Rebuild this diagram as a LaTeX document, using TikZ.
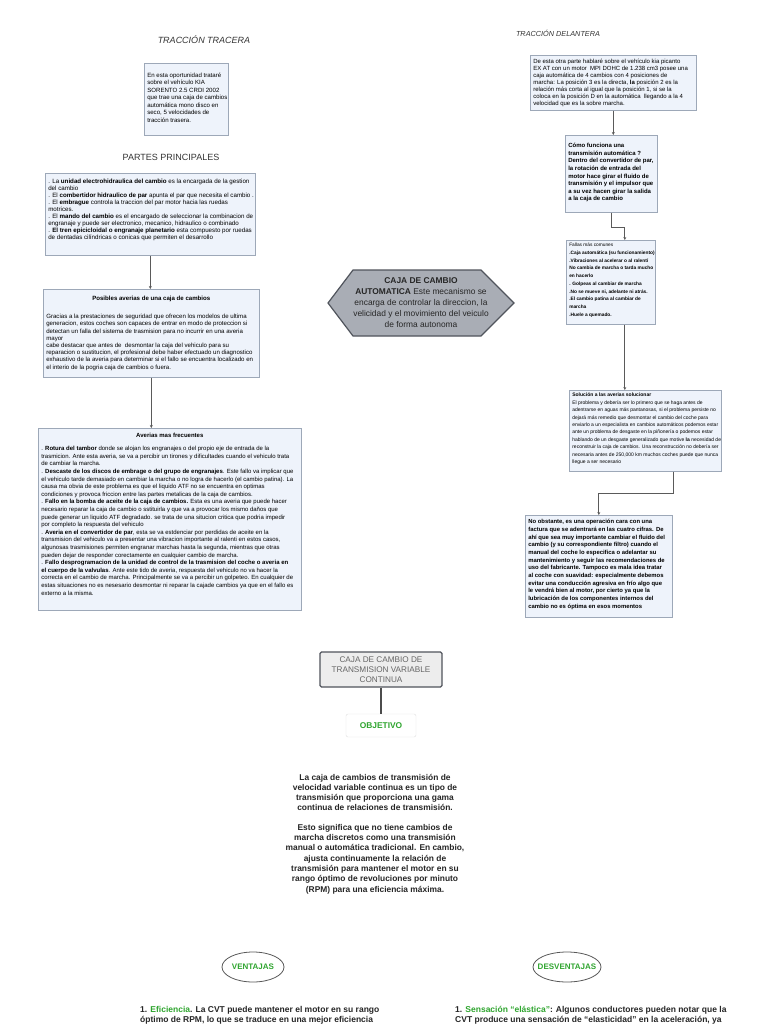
\documentclass[tikz,border=0pt]{standalone}
\usepackage{fontspec}
\setmainfont{Liberation Sans}
\usetikzlibrary{positioning}
\usetikzlibrary{shapes.geometric}
\usetikzlibrary{arrows.meta}
\definecolor{boxfill}{HTML}{EEF3FB}
\definecolor{boxline}{HTML}{9DA8B8}
\definecolor{hexfill}{HTML}{A9ADB5}
\definecolor{hexline}{HTML}{50545C}
\definecolor{linkgray}{HTML}{5A5A5A}
\definecolor{titlegray}{HTML}{333333}
\definecolor{cvtgreen}{HTML}{2FA52F}
\newcommand{\boxbody}[4]{\makebox[#1pt][l]{\parbox[t][#2pt][t]{\dimexpr#1pt+60pt\relax}{\vspace*{#3pt}\raggedright #4}}}
\newcommand{\fsz}[2]{\fontsize{#1}{#2}\selectfont}

\begin{document}
\begin{tikzpicture}
                [
                    x = 1pt, y = -1pt,
                    infobox/.style = {draw=boxline, fill=boxfill, anchor=north west, inner sep=3pt, line width=0.6pt, text=black},
                    heading/.style = {text=titlegray, inner sep=0pt},
                    hexshape/.style = {draw=hexline, fill=hexfill, line width=1.2pt},
                    link/.style = {draw=linkgray, line width=0.7pt, -{Stealth[length=3pt, width=3pt]}},
                    cvtbox/.style = {draw=hexline, fill=black!7, line width=1.2pt, rounded corners=1.5pt, minimum width=122pt, minimum height=35pt, inner sep=1pt, align=center, text=black!60},
                    tagbox/.style = {draw=black!12, rounded corners=2pt, minimum width=70pt, minimum height=23pt, inner sep=0pt, text=cvtgreen, font=\bfseries\fsz{8.4}{9}},
                    tagoval/.style = {ellipse, draw=black!65, line width=0.8pt, minimum width=62pt, minimum height=30pt, inner sep=0pt, text=cvtgreen, font=\bfseries\fsz{8}{9}},
                    bodytext/.style = {align=center, inner sep=0pt, text=black!85, font=\bfseries\fsz{8.4}{10.3}},
                    foottext/.style = {anchor=north west, align=left, inner sep=0pt, text=black!85, font=\bfseries\fsz{8.5}{10.5}}
                ]
                \fill[white] (0,0) rectangle (768,1024);
                \useasboundingbox (0,0) rectangle (768,1024);

                % traccion trasera
                \node (titletras) [heading, font=\itshape\fsz{9}{10}] at (204,40) {TRACCIÓN TRACERA};
                \node (trasera) [infobox, font=\fsz{6.1}{7.5}] at (144,63) {\boxbody{78}{66}{6.5}{En esta oportunidad trataré\\sobre el vehículo KIA\\SORENTO 2.5 CRDI 2002\\que trae una caja de cambios\\automática mono disco en\\seco, 5 velocidades de\\tracción trasera.}};

                \node (titlepartes) [heading, font=\fsz{9}{10}] at (171,157) {PARTES PRINCIPALES};
                \node (partes) [infobox, font=\fsz{6.2}{7}] at (45,173) {\boxbody{204}{76}{3}{. La \textbf{unidad electrohidraulica del cambio} es la encargada de la gestion\\del cambio\\. El \textbf{combertidor hidraulico de par} apunta el par que necesita el cambio .\\. El \textbf{embrague} controla la traccion del par motor hacia las ruedas\\motrices.\\. El \textbf{mando del cambio} es el encargado de seleccionar la combinacion de\\engranaje y puede ser electronico, mecanico, hidraulico o combinado\\. \textbf{El tren epicicloidal o engranaje planetario} esta compuesto por ruedas\\de dentadas cilíndricas o conicas que permiten el desarrollo}};

                \node (posibles) [infobox, font=\fsz{6.1}{7.2}] at (43,289) {\boxbody{210}{82}{4}{\makebox[210pt]{\textbf{Posibles averias de una caja de cambios}}\par\vspace{10.8pt}Gracias a la prestaciones de seguridad que ofrecen los modelos de ultima\\generacion, estos coches son capaces de entrar en modo de proteccion si\\detectan un falla del sistema de trasmision para no incurrir en una averia\\mayor\\cabe destacar que antes de \ desmontar la caja del vehiculo para su\\reparacion o sustitucion, el profesional debe haber efectuado un diagnostico\\exhaustivo de la averia para determinar si el fallo se encuentra localizado en\\el interio de la pogria caja de cambios o fuera.}};

                \node (frecuentes) [infobox, font=\fsz{6}{7.6}] at (38,428) {\boxbody{257}{176}{2}{\makebox[257pt]{\textbf{Averias mas frecuentes}}\par\vspace{5.4pt}. \textbf{Rotura del tambor} donde se alojan los engranajes o del propio eje de entrada de la\\trasmicion. Ante esta averia, se va a percibir un tirones y dificultades cuando el vehiculo trata\\de cambiar la marcha.\\. \textbf{Descaste de los discos de embrage o del grupo de engranajes}. Este fallo va implicar que\\el vehiculo tarde demasiado en cambiar la marcha o no logra de hacerlo (el cambio patina). La\\causa ma obvia de este problema es que el liquido ATF no se encuentra en optimas\\condiciones y provoca friccion entre las partes metalicas de la caja de cambios.\\. \textbf{Fallo en la bomba de aceite de la caja de cambios.} Esta es una averia que puede hacer\\necesario reparar la caja de cambio o sstituirla y que va a provocar los mismo daños que\\puede generar un liquido ATF degradado. se trata de una situcion critica que podria impedir\\por completo la respuesta del vehiculo\\. \textbf{Averia en el convertidor de par}, esta se va estdenciar por perdidas de aceite en la\\transmision del vehiculo va a presentar una vibracion importante al ralenti en estos casos,\\algunosas trasmisiones permiten engranar marchas hasta la segunda, mientras que otras\\pueden dejar de responder corectamente en cualquier cambio de marcha.\\. \textbf{Fallo desprogramacion de la unidad de control de la trasmision del coche o averia en}\\\textbf{el cuerpo de la valvulas}. Ante este tido de averia, respuesta del vehiculo no va hacer la\\correcta en el cambio de marcha. Principalmente se va a percibir un golpeteo. En cualquier de\\estas situaciones no es nesesario desmontar ni reparar la cajade cambios ya que en el fallo es\\externo a la misma.}};

                % traccion delantera
                \node (titledel) [heading, font=\itshape\fsz{7.3}{9}] at (558,33) {TRACCIÓN DELANTERA};
                \node (picanto) [infobox, font=\fsz{6}{7}] at (530,55) {\boxbody{160}{49}{1}{De esta otra parte hablaré sobre el vehículo kia picanto\\EX AT con un motor \ MPI DOHC de 1.238 cm3 posee una\\caja automática de 4 cambios con 4 posiciones de\\marcha: La posición 3 es la directa, \textbf{la} posición 2 es la\\relación más corta al igual que la posición 1, si se la\\coloca en la posición D en la automática \ llegando a la 4\\velocidad que es la sobre marcha.}};

                \node (funciona) [infobox, font=\bfseries\fsz{6}{7.6}] at (565,135) {\boxbody{86}{71}{5}{Cómo funciona una\\transmisión automática ?\\Dentro del convertidor de par,\\la rotación de entrada del\\motor hace girar el fluido de\\transmisión y el impulsor que\\a su vez hacen girar la salida\\a la caja de cambio}};

                \node (fallas) [infobox, font=\fsz{4.8}{7.7}] at (566,240) {\boxbody{83}{78}{0}{Fallas más comunes\\\textbf{.Caja automática (su funcionamiento)}\\\textbf{.Vibraciones al acelerar o al ralentí}\\\textbf{No cambia de marcha o tarda mucho}\\\textbf{en hacerlo}\\\textbf{. Golpeas al cambiar de marcha}\\\textbf{.No se mueve ni, adelante ni atrás.}\\\textbf{.El cambio patina al cambiar de}\\\textbf{marcha}\\\textbf{.Huele a quemado.}}};

                \node (solucion) [infobox, font=\fsz{5}{7.4}] at (569,390) {\boxbody{146}{75}{0}{\textbf{Solución a las averias solucionar}\\El problema y debería ser lo primero que se haga antes de\\adentrarse en aguas más pantanosas, si el problema persiste no\\dejará más remedio que desmontar el cambio del coche para\\enviarlo a un especialista en cambios automáticos podemos estar\\ante un problema de desgaste en la piñonería o podemos estar\\hablando de un desgaste generalizado que motive \textbf{la} necesidad de\\reconstruir la caja de cambios. Una reconstrucción no debería ser\\necesaria antes de 250,000 km muchos coches puede que nunca\\llegue a ser necesario}};

                \node (obstante) [infobox, font=\bfseries\fsz{5.9}{7.7}] at (525,515) {\boxbody{141}{96}{1}{No obstante, es una operación cara con una\\factura que se adentrará en las cuatro cifras. De\\ahí que sea muy importante cambiar el fluido del\\cambio (y su correspondiente filtro) cuando el\\manual del coche lo especifica o adelantar su\\mantenimiento y seguir las recomendaciones de\\uso del fabricante. Tampoco es mala idea tratar\\al coche con suavidad: especialmente debemos\\evitar una conducción agresiva en frío algo que\\le vendrá bien al motor, por cierto ya que la\\lubricación de los componentes internos del\\cambio no es óptima en esos momentos}};

                % caja automatica
                \draw[hexshape] (328,303) -- (353,270) -- (481,270) -- (514,303) -- (481,336) -- (353,336) -- cycle;
                \node (automatica) [align=center, inner sep=0pt, text=black!85, font=\fsz{8.4}{11}] at (421,303) {\textbf{CAJA DE CAMBIO}\\\textbf{AUTOMATICA} Este mecanismo se\\encarga de controlar la direccion, la\\velicidad y el movimiento del veiculo\\de forma autonoma};

                \draw[link] (partes.south) -- (partes.south |- posibles.north);
                \draw[link] (posibles.south) -- (posibles.south |- frecuentes.north);
                \draw[link] (picanto.south) -- (picanto.south |- funciona.north);
                \draw[link] (funciona.south) -- ++(0,15) -| ([xshift=14pt]fallas.north);
                \draw[link] ([xshift=14pt]fallas.south) -- ([xshift=14pt]fallas.south |- solucion.north);
                \draw[link] ([xshift=28pt]solucion.south) -- ++(0,22) -| (obstante.north);

                % transmision variable continua
                \node (cvt) [cvtbox, font=\fsz{8.2}{10.3}] at (381,669.5) {CAJA DE CAMBIO DE\\TRANSMISION VARIABLE\\CONTINUA};
                \node (objetivo) [tagbox] at (381,725.5) {OBJETIVO};
                \draw[draw=black!70, line width=1.3pt] (cvt.south) -- (objetivo.north);

                \node (descuno) [bodytext] at (375,792.5) {La caja de cambios de transmisión de\\velocidad variable continua es un tipo de\\transmisión que proporciona una gama\\continua de relaciones de transmisión.};
                \node (descdos) [bodytext] at (375,859) {Esto significa que no tiene cambios de\\marcha discretos como una transmisión\\manual o automática tradicional. En cambio,\\ajusta continuamente la relación de\\transmisión para mantener el motor en su\\rango óptimo de revoluciones por minuto\\(RPM) para una eficiencia máxima.};

                \node (ventajas) [tagoval] at (253,967) {\makebox[0pt]{VENTAJAS}};
                \node (desventajas) [tagoval, minimum width=68pt] at (567,967) {\makebox[0pt]{DESVENTAJAS}};

                \node (eficiencia) [foottext] at (140,1006) {1. \textcolor{cvtgreen}{Eficiencia}. La CVT puede mantener el motor en su rango\\óptimo de RPM, lo que se traduce en una mejor eficiencia};
                \node (sensacion) [foottext] at (455,1006) {1. \textcolor{cvtgreen}{Sensación ``elástica''}: Algunos conductores pueden notar que la\\CVT produce una sensación de ``elasticidad'' en la aceleración, ya};

            \end{tikzpicture}
\end{document}
